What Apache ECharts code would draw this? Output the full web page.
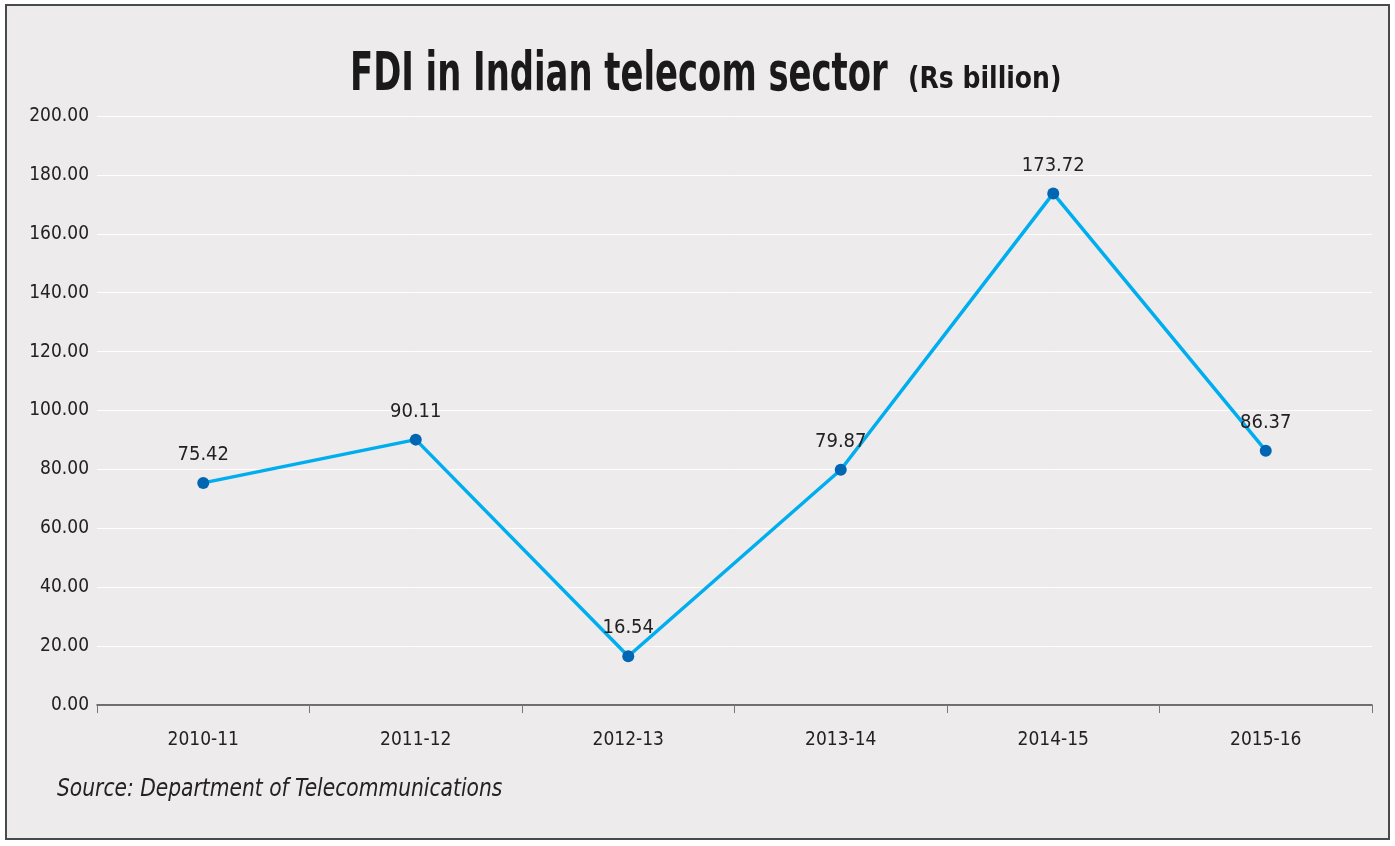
<!DOCTYPE html>
<html><head><meta charset="utf-8">
<script src="https://cdn.jsdelivr.net/npm/echarts@6/dist/echarts.min.js"></script>
<style>html,body{margin:0;padding:0;background:#fff}#c{width:1395px;height:846px}</style>
</head><body><div id="c"></div>
<script>
const categories = ['2010-11','2011-12','2012-13','2013-14','2014-15','2015-16'];
const fdiValues = [75.42, 90.11, 16.54, 79.87, 173.72, 86.37];
const yTicks = {min: 0, max: 200, interval: 20};
const narrow = '"Liberation Sans Narrow","Arial Narrow","DejaVu Sans Condensed",sans-serif';

const chart = echarts.init(document.getElementById('c'));
chart.setOption({
  backgroundColor: '#fff',
  animation: false,
  graphic: [{
    type: 'rect', z: -10,
    shape: {x: 6, y: 5, width: 1383, height: 834},
    style: {fill: '#edebec', stroke: '#4a4a4a', lineWidth: 2}
  }, {
    type: 'text', x: 350, y: 76, scaleX: 0.71,
    style: {text: 'FDI in Indian telecom sector', font: 'bold 53px ' + narrow, fill: '#1a1a1a',
      align: 'left', verticalAlign: 'middle'}
  }, {
    type: 'text', x: 908, y: 80, scaleX: 0.9,
    style: {text: '(Rs billion)', font: 'bold 31px ' + narrow, fill: '#1a1a1a',
      align: 'left', verticalAlign: 'middle'}
  }, {
    type: 'text', x: 57, y: 789, scaleX: 0.9,
    style: {text: 'Source: Department of Telecommunications', font: 'italic 25px ' + narrow, fill: '#222',
      align: 'left', verticalAlign: 'middle'}
  }],
  grid: {left: 97, right: 23, top: 116, bottom: 141},
  xAxis: {
    type: 'category', data: categories, boundaryGap: true,
    axisLine: {lineStyle: {color: '#444', width: 1.5}},
    axisTick: {show: true, alignWithLabel: false, length: 8, lineStyle: {color: '#777'}},
    axisLabel: {fontFamily: narrow, fontSize: 19, color: '#222', margin: 26}
  },
  yAxis: {
    type: 'value', min: yTicks.min, max: yTicks.max, interval: yTicks.interval,
    axisLine: {show: false}, axisTick: {show: false},
    splitLine: {lineStyle: {color: '#ffffff', width: 1}},
    axisLabel: {fontFamily: narrow, fontSize: 19, color: '#222', margin: 8,
      formatter: v => v.toFixed(2)}
  },
  series: [{
    type: 'line', data: fdiValues,
    lineStyle: {color: '#00aeef', width: 3.5},
    symbol: 'circle', symbolSize: 12,
    itemStyle: {color: '#0066b3'},
    label: {show: true, position: 'top', distance: 12, fontFamily: narrow, fontSize: 20, color: '#222',
      formatter: p => p.value.toFixed(2)}
  }]
});
</script></body></html>
